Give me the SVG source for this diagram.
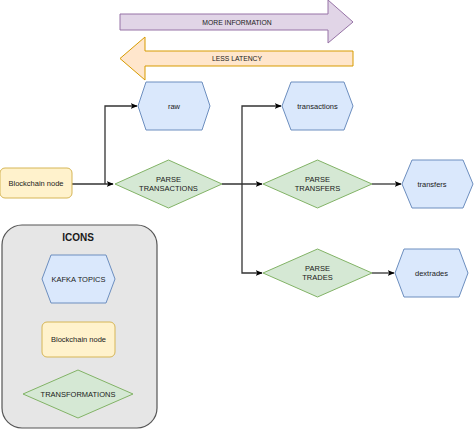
<svg xmlns="http://www.w3.org/2000/svg" width="474" height="430" viewBox="0 0 474 430">
<defs>
<style>
text{font-family:"Liberation Sans",Arial,sans-serif;font-size:7.5px;fill:#1a1a1a;text-anchor:middle;dominant-baseline:central}
text.small{font-size:6.8px}
text.title{font-size:10px;font-weight:bold}
.topic{fill:#dae8fc;stroke:#6c8ebf;stroke-width:1}
.trans{fill:#d5e8d4;stroke:#82b366;stroke-width:1}
.node{fill:#fff2cc;stroke:#d6b656;stroke-width:1}
.edge{fill:none;stroke:#333;stroke-width:1.3}
</style>
<marker id="ah" viewBox="0 0 10 10" refX="9" refY="5" markerWidth="7" markerHeight="7" orient="auto" markerUnits="userSpaceOnUse">
<path d="M0,1 L10,5 L0,9 L2.5,5 Z" fill="#000"/>
</marker>
</defs>
<rect width="474" height="430" fill="#fff"/>
<g id="more-info">
<polygon points="120,14 328,14 328,0 353,22 328,43 328,30 120,30" fill="#e1d5e7" stroke="#9673a6"/>
<text class="small" x="237" y="22">MORE INFORMATION</text>
</g>
<g id="less-latency">
<polygon points="353,51 145,51 145,37 120,58.5 145,80 145,66 353,66" fill="#ffe6cc" stroke="#d79b00"/>
<text class="small" x="237" y="58.5">LESS LATENCY</text>
</g>
<g id="connectors">
<path class="edge" d="M72,184 L113,184" marker-end="url(#ah)"/>
<path class="edge" d="M105,184 L105,106 L137,106" marker-end="url(#ah)"/>
<path class="edge" d="M222,184 L262,184" marker-end="url(#ah)"/>
<path class="edge" d="M242,184 L242,106 L281,106" marker-end="url(#ah)"/>
<path class="edge" d="M242,184 L242,273 L262,273" marker-end="url(#ah)"/>
<path class="edge" d="M372,184 L401,184" marker-end="url(#ah)"/>
<path class="edge" d="M372,273 L394,273" marker-end="url(#ah)"/>
</g>
<g id="blockchain-node">
<rect class="node" x="0" y="168" width="72" height="30" rx="5"/>
<text x="36" y="183">Blockchain node</text>
</g>
<g id="raw">
<polygon class="topic" points="138,106 146,82 202,82 210,106 202,130 146,130"/>
<text x="174" y="106">raw</text>
</g>
<g id="parse-transactions">
<polygon class="trans" points="115,184 168.5,160 222,184 168.5,208"/>
<text x="168.5" y="179.5">PARSE</text>
<text x="168.5" y="188.5">TRANSACTIONS</text>
</g>
<g id="transactions">
<polygon class="topic" points="282,106 291,82 344,82 353,106 344,130 291,130"/>
<text x="317.5" y="106">transactions</text>
</g>
<g id="parse-transfers">
<polygon class="trans" points="263,184 317.5,160 372,184 317.5,208"/>
<text x="317.5" y="179.5">PARSE</text>
<text x="317.5" y="188.5">TRANSFERS</text>
</g>
<g id="transfers">
<polygon class="topic" points="402,184 412,160 463,160 473,184 463,208 412,208"/>
<text x="432" y="184">transfers</text>
</g>
<g id="parse-trades">
<polygon class="trans" points="263,273 317.5,249 372,273 317.5,297"/>
<text x="317.5" y="268.5">PARSE</text>
<text x="317.5" y="277.5">TRADES</text>
</g>
<g id="dextrades">
<polygon class="topic" points="395,273 404,249 459,249 468,273 459,297 404,297"/>
<text x="431.5" y="273">dextrades</text>
</g>
<g id="icons">
<rect x="2" y="225" width="155" height="203" rx="20" fill="#e6e6e6" stroke="#555" stroke-width="1.2"/>
<text class="title" x="78" y="237">ICONS</text>
<g id="icon-kafka-topics">
<polygon class="topic" points="42,279 51,255 106,255 115,279 106,303 51,303"/>
<text x="78.5" y="279">KAFKA TOPICS</text>
</g>
<g id="icon-blockchain-node">
<rect class="node" x="42" y="322" width="73" height="35" rx="5"/>
<text x="78.5" y="339.5">Blockchain node</text>
</g>
<g id="icon-transformations">
<polygon class="trans" points="23,394 78,370 133,394 78,418"/>
<text x="78" y="394">TRANSFORMATIONS</text>
</g>
</g>
</svg>
